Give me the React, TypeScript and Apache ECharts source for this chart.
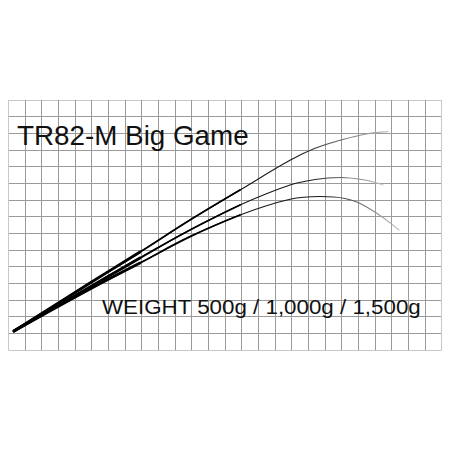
import * as echarts from "echarts"
import { useEffect, useRef } from "react"

// Grid is 26 x 15 cells; curve points are in cell units from the bottom-left corner.
const xCells = 26
const yCells = 15

const title = "TR82-M Big Game"
const weightLabel = "WEIGHT 500g / 1,000g / 1,500g"

// rod bend under 500g (top), 1,000g (middle), 1,500g (bottom)
const bend500 = [
  [0.34, 1.14], [4.9, 4.02], [7.9, 5.88], [10.9, 7.8], [13.9, 9.6],
  [16.9, 11.38], [18.4, 12.1], [19.9, 12.58], [21.4, 12.95], [22.78, 13.1],
]
const bend1000 = [
  [0.34, 1.14], [4.9, 3.78], [7.9, 5.52], [10.9, 7.2], [13.9, 8.7],
  [16.9, 9.9], [18.4, 10.23], [19.9, 10.35], [21.4, 10.2], [22.48, 9.9],
]
const bend1500 = [
  [0.34, 1.14], [4.9, 3.66], [7.9, 5.22], [10.9, 6.8], [13.9, 8.1],
  [16.9, 9.04], [18.7, 9.21], [20.2, 9.09], [21.7, 8.46], [23.44, 7.2],
]

// butt taper: [points kept from the butt, width] — only over the straight part of the rod
const butt: [number, number][] = [
  [5, 1.8],
  [3, 2.8],
]

const edgeColor = "#c8c8c8"
const innerColor = "#9a9a9a"
const splitColors = (n: number) =>
  Array.from({ length: n + 1 }, (_, i) => (i === 0 || i === n ? edgeColor : innerColor))

// black at the butt fading to grey at the tip
const tipFade = (start: number) => ({
  type: "linear",
  x: 0,
  y: 0,
  x2: 1,
  y2: 0,
  colorStops: [
    { offset: 0, color: "#000" },
    { offset: start, color: "#1a1a1a" },
    { offset: 1, color: "#c4c4c4" },
  ],
})

export default function App() {
  const ref = useRef<HTMLDivElement>(null)

  useEffect(() => {
    if (!ref.current) return
    document.body.style.margin = "0"
    const chart = echarts.init(ref.current, null, { renderer: "svg" })

    const curves: [number[][], number][] = [
      [bend500, 0.76],
      [bend1000, 0.8],
      [bend1500, 0.8],
    ]
    const series = curves.flatMap(([pts, fade]) => [
      {
        type: "line",
        data: pts,
        smooth: 0.4,
        showSymbol: false,
        silent: true,
        z: 5,
        lineStyle: { width: 1.1, color: tipFade(fade), cap: "round" },
      },
      ...butt.map(([keep, width]) => ({
        type: "line",
        data: pts.slice(0, keep),
        smooth: 0.4,
        showSymbol: false,
        silent: true,
        z: 6,
        lineStyle: { width, color: "#000", cap: "round" },
      })),
    ])

    chart.setOption({
      animation: false,
      grid: { left: 8.33, top: 100, width: 433.33, height: 250, show: false },
      xAxis: {
        type: "value",
        min: 0,
        max: xCells,
        interval: 1,
        axisLine: { show: false },
        axisTick: { show: false },
        axisLabel: { show: false },
        splitLine: { show: true, lineStyle: { color: splitColors(xCells), width: 1 } },
      },
      yAxis: {
        type: "value",
        min: 0,
        max: yCells,
        interval: 1,
        axisLine: { show: false },
        axisTick: { show: false },
        axisLabel: { show: false },
        splitLine: { show: true, lineStyle: { color: splitColors(yCells), width: 1 } },
      },
      graphic: [
        {
          type: "text",
          x: 17,
          y: 136,
          scaleX: 1.03,
          z: 10,
          style: {
            text: title,
            font: '27px "Liberation Sans", Arial, sans-serif',
            fill: "#111",
            align: "left",
            verticalAlign: "middle",
          },
        },
        {
          type: "text",
          x: 102,
          y: 307,
          scaleX: 1.09,
          z: 10,
          style: {
            text: weightLabel,
            font: '20.5px "Liberation Sans", Arial, sans-serif',
            fill: "#111",
            align: "left",
            verticalAlign: "middle",
          },
        },
      ],
      series,
    })

    return () => chart.dispose()
  }, [])

  return <div ref={ref} style={{ width: 450, height: 450 }} />
}
